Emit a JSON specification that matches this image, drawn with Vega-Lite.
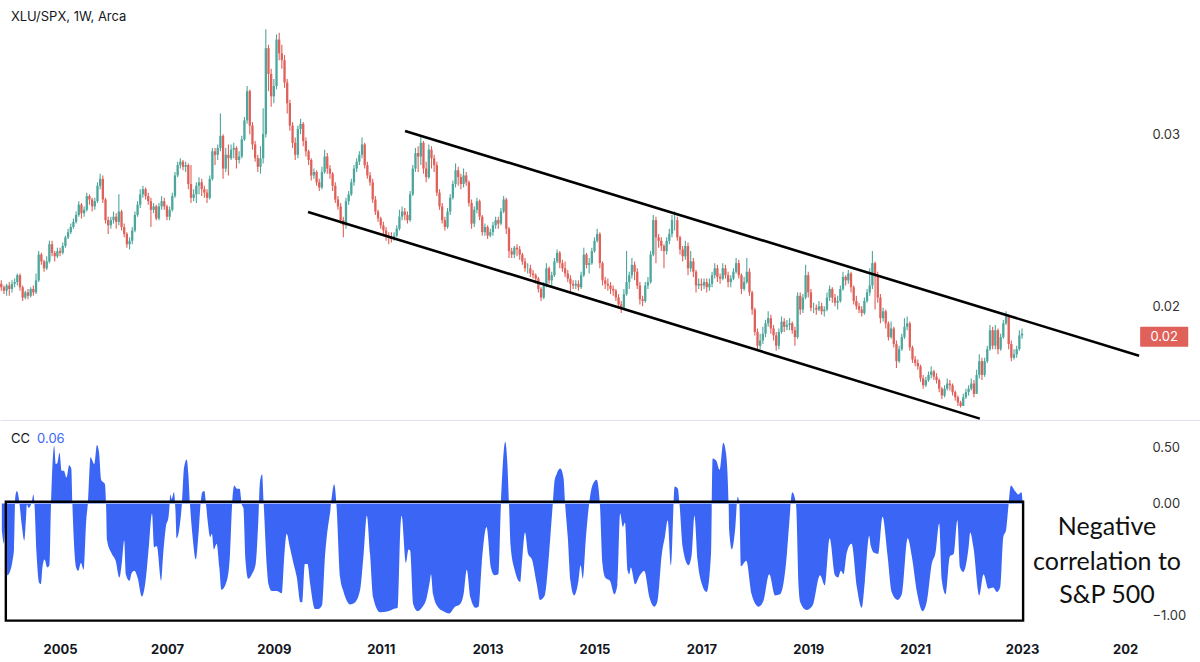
{"$schema":"https://vega.github.io/schema/vega-lite/v6.json","background":"white","padding":0,"spacing":0,"config":{"view":{"stroke":null},"font":"Inter","concat":{"spacing":0}},
"datasets":{"candles":[
{"t":2003.9,"o":0.0213,"c":0.0211,"h":0.0215,"l":0.0209},{"t":2003.95,"o":0.0211,"c":0.0209,"h":0.0212,"l":0.0207},{"t":2004.0,"o":0.0209,"c":0.0212,"h":0.0213,"l":0.0206},{"t":2004.05,"o":0.0212,"c":0.021,"h":0.0214,"l":0.0206},{"t":2004.1,"o":0.021,"c":0.0213,"h":0.0215,"l":0.0208},{"t":2004.15,"o":0.0213,"c":0.0214,"h":0.0216,"l":0.0211},{"t":2004.2,"o":0.0214,"c":0.0218,"h":0.0219,"l":0.0212},{"t":2004.25,"o":0.0218,"c":0.0211,"h":0.0219,"l":0.0209},{"t":2004.3,"o":0.0211,"c":0.0205,"h":0.0212,"l":0.0203},{"t":2004.35,"o":0.0205,"c":0.0208,"h":0.0209,"l":0.0204},{"t":2004.4,"o":0.0208,"c":0.0206,"h":0.021,"l":0.0204},{"t":2004.45,"o":0.0206,"c":0.021,"h":0.0211,"l":0.0205},{"t":2004.5,"o":0.021,"c":0.0208,"h":0.0212,"l":0.0206},{"t":2004.55,"o":0.0208,"c":0.0215,"h":0.0219,"l":0.0207},{"t":2004.6,"o":0.0215,"c":0.023,"h":0.0232,"l":0.0214},{"t":2004.65,"o":0.023,"c":0.0226,"h":0.0231,"l":0.0224},{"t":2004.7,"o":0.0226,"c":0.0222,"h":0.0227,"l":0.022},{"t":2004.75,"o":0.0222,"c":0.0226,"h":0.0229,"l":0.0221},{"t":2004.8,"o":0.0226,"c":0.0236,"h":0.0238,"l":0.0225},{"t":2004.85,"o":0.0236,"c":0.0231,"h":0.0238,"l":0.0229},{"t":2004.9,"o":0.0231,"c":0.0229,"h":0.0232,"l":0.0226},{"t":2004.95,"o":0.0229,"c":0.0232,"h":0.0234,"l":0.0228},{"t":2005.0,"o":0.0232,"c":0.0231,"h":0.0234,"l":0.0229},{"t":2005.05,"o":0.0231,"c":0.0235,"h":0.0237,"l":0.023},{"t":2005.1,"o":0.0235,"c":0.024,"h":0.0241,"l":0.0234},{"t":2005.15,"o":0.024,"c":0.0243,"h":0.0245,"l":0.0239},{"t":2005.2,"o":0.0243,"c":0.0246,"h":0.0248,"l":0.0242},{"t":2005.25,"o":0.0246,"c":0.0249,"h":0.0251,"l":0.0245},{"t":2005.3,"o":0.0249,"c":0.0253,"h":0.0255,"l":0.0248},{"t":2005.35,"o":0.0253,"c":0.0259,"h":0.0261,"l":0.0252},{"t":2005.4,"o":0.0259,"c":0.0254,"h":0.026,"l":0.0251},{"t":2005.45,"o":0.0254,"c":0.0256,"h":0.0258,"l":0.0252},{"t":2005.5,"o":0.0256,"c":0.0264,"h":0.0266,"l":0.0255},{"t":2005.55,"o":0.0264,"c":0.0262,"h":0.0265,"l":0.0259},{"t":2005.6,"o":0.0262,"c":0.0258,"h":0.0263,"l":0.0255},{"t":2005.65,"o":0.0258,"c":0.0261,"h":0.0263,"l":0.0256},{"t":2005.7,"o":0.0261,"c":0.027,"h":0.0272,"l":0.026},{"t":2005.75,"o":0.027,"c":0.0274,"h":0.0277,"l":0.0268},{"t":2005.8,"o":0.0274,"c":0.0262,"h":0.0276,"l":0.026},{"t":2005.85,"o":0.0262,"c":0.025,"h":0.0263,"l":0.0248},{"t":2005.9,"o":0.025,"c":0.0247,"h":0.0252,"l":0.0242},{"t":2005.95,"o":0.0247,"c":0.025,"h":0.0252,"l":0.0245},{"t":2006.0,"o":0.025,"c":0.0252,"h":0.0255,"l":0.0248},{"t":2006.05,"o":0.0252,"c":0.0249,"h":0.0254,"l":0.0245},{"t":2006.1,"o":0.0249,"c":0.0255,"h":0.0265,"l":0.0247},{"t":2006.15,"o":0.0255,"c":0.0246,"h":0.0256,"l":0.0244},{"t":2006.2,"o":0.0246,"c":0.0242,"h":0.0248,"l":0.024},{"t":2006.25,"o":0.0242,"c":0.0236,"h":0.0243,"l":0.0234},{"t":2006.3,"o":0.0236,"c":0.0238,"h":0.024,"l":0.0233},{"t":2006.35,"o":0.0238,"c":0.0244,"h":0.0246,"l":0.0236},{"t":2006.4,"o":0.0244,"c":0.0253,"h":0.0255,"l":0.0243},{"t":2006.45,"o":0.0253,"c":0.0259,"h":0.0261,"l":0.0252},{"t":2006.5,"o":0.0259,"c":0.0265,"h":0.0268,"l":0.0257},{"t":2006.55,"o":0.0265,"c":0.0268,"h":0.027,"l":0.0263},{"t":2006.6,"o":0.0268,"c":0.0264,"h":0.0269,"l":0.0262},{"t":2006.65,"o":0.0264,"c":0.0261,"h":0.0266,"l":0.0259},{"t":2006.7,"o":0.0261,"c":0.0256,"h":0.0263,"l":0.0246},{"t":2006.75,"o":0.0256,"c":0.0258,"h":0.026,"l":0.0254},{"t":2006.8,"o":0.0258,"c":0.0251,"h":0.0259,"l":0.025},{"t":2006.85,"o":0.0251,"c":0.0258,"h":0.026,"l":0.025},{"t":2006.9,"o":0.0258,"c":0.0261,"h":0.0264,"l":0.0256},{"t":2006.95,"o":0.0261,"c":0.0258,"h":0.0263,"l":0.0256},{"t":2007.0,"o":0.0258,"c":0.0252,"h":0.0259,"l":0.025},{"t":2007.05,"o":0.0252,"c":0.0256,"h":0.0258,"l":0.025},{"t":2007.1,"o":0.0256,"c":0.0264,"h":0.0266,"l":0.0255},{"t":2007.15,"o":0.0264,"c":0.0276,"h":0.0278,"l":0.0263},{"t":2007.2,"o":0.0276,"c":0.0282,"h":0.0284,"l":0.0275},{"t":2007.25,"o":0.0282,"c":0.0284,"h":0.0286,"l":0.028},{"t":2007.3,"o":0.0284,"c":0.0281,"h":0.0285,"l":0.0279},{"t":2007.35,"o":0.0281,"c":0.0282,"h":0.0284,"l":0.0278},{"t":2007.4,"o":0.0282,"c":0.0271,"h":0.0283,"l":0.0268},{"t":2007.45,"o":0.0271,"c":0.0263,"h":0.0282,"l":0.026},{"t":2007.5,"o":0.0263,"c":0.0265,"h":0.0268,"l":0.0261},{"t":2007.55,"o":0.0265,"c":0.027,"h":0.0272,"l":0.026},{"t":2007.6,"o":0.027,"c":0.0272,"h":0.0275,"l":0.0265},{"t":2007.65,"o":0.0272,"c":0.0268,"h":0.0274,"l":0.0264},{"t":2007.7,"o":0.0268,"c":0.0266,"h":0.027,"l":0.0263},{"t":2007.75,"o":0.0266,"c":0.0263,"h":0.0268,"l":0.026},{"t":2007.8,"o":0.0263,"c":0.0274,"h":0.0276,"l":0.0262},{"t":2007.85,"o":0.0274,"c":0.029,"h":0.0292,"l":0.0273},{"t":2007.9,"o":0.029,"c":0.0288,"h":0.0292,"l":0.0282},{"t":2007.95,"o":0.0288,"c":0.0292,"h":0.0294,"l":0.0285},{"t":2008.0,"o":0.0292,"c":0.0299,"h":0.0312,"l":0.029},{"t":2008.05,"o":0.0299,"c":0.028,"h":0.03,"l":0.0274},{"t":2008.1,"o":0.028,"c":0.0288,"h":0.0292,"l":0.0278},{"t":2008.15,"o":0.0288,"c":0.0286,"h":0.0294,"l":0.0276},{"t":2008.2,"o":0.0286,"c":0.0291,"h":0.0294,"l":0.0285},{"t":2008.25,"o":0.0291,"c":0.0292,"h":0.0295,"l":0.0286},{"t":2008.3,"o":0.0292,"c":0.0285,"h":0.0293,"l":0.028},{"t":2008.35,"o":0.0285,"c":0.0287,"h":0.029,"l":0.0283},{"t":2008.4,"o":0.0287,"c":0.0297,"h":0.0299,"l":0.0286},{"t":2008.45,"o":0.0297,"c":0.0308,"h":0.031,"l":0.0296},{"t":2008.5,"o":0.0308,"c":0.0325,"h":0.0328,"l":0.0306},{"t":2008.55,"o":0.0325,"c":0.0305,"h":0.0326,"l":0.03},{"t":2008.6,"o":0.0305,"c":0.0294,"h":0.0307,"l":0.0291},{"t":2008.65,"o":0.0294,"c":0.0286,"h":0.0296,"l":0.0284},{"t":2008.7,"o":0.0286,"c":0.0281,"h":0.0288,"l":0.0278},{"t":2008.75,"o":0.0281,"c":0.0286,"h":0.0293,"l":0.0277},{"t":2008.8,"o":0.0286,"c":0.03,"h":0.0315,"l":0.0283},{"t":2008.85,"o":0.03,"c":0.035,"h":0.0361,"l":0.0298},{"t":2008.9,"o":0.035,"c":0.0335,"h":0.0352,"l":0.0325},{"t":2008.95,"o":0.0335,"c":0.0322,"h":0.0338,"l":0.0316},{"t":2009.0,"o":0.0322,"c":0.0328,"h":0.0332,"l":0.0318},{"t":2009.05,"o":0.0328,"c":0.0355,"h":0.0358,"l":0.0326},{"t":2009.1,"o":0.0355,"c":0.0347,"h":0.0359,"l":0.0343},{"t":2009.15,"o":0.0347,"c":0.0343,"h":0.0352,"l":0.0338},{"t":2009.2,"o":0.0343,"c":0.033,"h":0.0346,"l":0.0327},{"t":2009.25,"o":0.033,"c":0.0318,"h":0.0332,"l":0.0312},{"t":2009.3,"o":0.0318,"c":0.0305,"h":0.032,"l":0.0302},{"t":2009.35,"o":0.0305,"c":0.0295,"h":0.0307,"l":0.0292},{"t":2009.4,"o":0.0295,"c":0.0288,"h":0.0298,"l":0.0285},{"t":2009.45,"o":0.0288,"c":0.0303,"h":0.0305,"l":0.0286},{"t":2009.5,"o":0.0303,"c":0.0306,"h":0.0309,"l":0.03},{"t":2009.55,"o":0.0306,"c":0.0296,"h":0.0307,"l":0.0293},{"t":2009.6,"o":0.0296,"c":0.029,"h":0.0298,"l":0.0287},{"t":2009.65,"o":0.029,"c":0.0285,"h":0.0291,"l":0.0282},{"t":2009.7,"o":0.0285,"c":0.0276,"h":0.0286,"l":0.0273},{"t":2009.75,"o":0.0276,"c":0.0278,"h":0.028,"l":0.0274},{"t":2009.8,"o":0.0278,"c":0.0272,"h":0.0279,"l":0.027},{"t":2009.85,"o":0.0272,"c":0.0269,"h":0.0274,"l":0.0267},{"t":2009.9,"o":0.0269,"c":0.0278,"h":0.0281,"l":0.0268},{"t":2009.95,"o":0.0278,"c":0.0287,"h":0.0291,"l":0.0277},{"t":2010.0,"o":0.0287,"c":0.028,"h":0.0289,"l":0.0277},{"t":2010.05,"o":0.028,"c":0.0277,"h":0.0282,"l":0.0274},{"t":2010.1,"o":0.0277,"c":0.027,"h":0.0278,"l":0.0267},{"t":2010.15,"o":0.027,"c":0.0262,"h":0.0272,"l":0.026},{"t":2010.2,"o":0.0262,"c":0.0258,"h":0.0264,"l":0.0256},{"t":2010.25,"o":0.0258,"c":0.025,"h":0.026,"l":0.0248},{"t":2010.3,"o":0.025,"c":0.0247,"h":0.0252,"l":0.024},{"t":2010.35,"o":0.0247,"c":0.0261,"h":0.0263,"l":0.0245},{"t":2010.4,"o":0.0261,"c":0.0265,"h":0.0267,"l":0.0259},{"t":2010.45,"o":0.0265,"c":0.0272,"h":0.0274,"l":0.0264},{"t":2010.5,"o":0.0272,"c":0.028,"h":0.0282,"l":0.027},{"t":2010.55,"o":0.028,"c":0.0284,"h":0.0286,"l":0.0278},{"t":2010.6,"o":0.0284,"c":0.0288,"h":0.029,"l":0.0282},{"t":2010.65,"o":0.0288,"c":0.0294,"h":0.0298,"l":0.0286},{"t":2010.7,"o":0.0294,"c":0.0282,"h":0.0295,"l":0.028},{"t":2010.75,"o":0.0282,"c":0.0276,"h":0.0284,"l":0.0274},{"t":2010.8,"o":0.0276,"c":0.0272,"h":0.0278,"l":0.027},{"t":2010.85,"o":0.0272,"c":0.0262,"h":0.0274,"l":0.026},{"t":2010.9,"o":0.0262,"c":0.0255,"h":0.0264,"l":0.0253},{"t":2010.95,"o":0.0255,"c":0.0251,"h":0.0256,"l":0.0249},{"t":2011.0,"o":0.0251,"c":0.0247,"h":0.0252,"l":0.0245},{"t":2011.05,"o":0.0247,"c":0.0244,"h":0.0249,"l":0.0242},{"t":2011.1,"o":0.0244,"c":0.0241,"h":0.0246,"l":0.0238},{"t":2011.15,"o":0.0241,"c":0.024,"h":0.0243,"l":0.0236},{"t":2011.2,"o":0.024,"c":0.0239,"h":0.0243,"l":0.0237},{"t":2011.25,"o":0.0239,"c":0.0241,"h":0.0243,"l":0.0238},{"t":2011.3,"o":0.0241,"c":0.0245,"h":0.0247,"l":0.024},{"t":2011.35,"o":0.0245,"c":0.0252,"h":0.0256,"l":0.0244},{"t":2011.4,"o":0.0252,"c":0.0255,"h":0.0258,"l":0.025},{"t":2011.45,"o":0.0255,"c":0.0253,"h":0.0257,"l":0.025},{"t":2011.5,"o":0.0253,"c":0.025,"h":0.0255,"l":0.0248},{"t":2011.55,"o":0.025,"c":0.0265,"h":0.0267,"l":0.0249},{"t":2011.6,"o":0.0265,"c":0.028,"h":0.0282,"l":0.0264},{"t":2011.65,"o":0.028,"c":0.0289,"h":0.0292,"l":0.0278},{"t":2011.7,"o":0.0289,"c":0.0287,"h":0.0293,"l":0.0278},{"t":2011.75,"o":0.0287,"c":0.0295,"h":0.0299,"l":0.0282},{"t":2011.8,"o":0.0295,"c":0.028,"h":0.0296,"l":0.0277},{"t":2011.85,"o":0.028,"c":0.0275,"h":0.0284,"l":0.0272},{"t":2011.9,"o":0.0275,"c":0.0291,"h":0.0294,"l":0.0274},{"t":2011.95,"o":0.0291,"c":0.0286,"h":0.0293,"l":0.028},{"t":2012.0,"o":0.0286,"c":0.0282,"h":0.0288,"l":0.0278},{"t":2012.05,"o":0.0282,"c":0.0266,"h":0.0284,"l":0.0264},{"t":2012.1,"o":0.0266,"c":0.0258,"h":0.0268,"l":0.0256},{"t":2012.15,"o":0.0258,"c":0.025,"h":0.026,"l":0.0248},{"t":2012.2,"o":0.025,"c":0.0246,"h":0.0252,"l":0.0244},{"t":2012.25,"o":0.0246,"c":0.0255,"h":0.0257,"l":0.0245},{"t":2012.3,"o":0.0255,"c":0.0263,"h":0.0265,"l":0.0253},{"t":2012.35,"o":0.0263,"c":0.0271,"h":0.0273,"l":0.0262},{"t":2012.4,"o":0.0271,"c":0.0279,"h":0.0283,"l":0.0269},{"t":2012.45,"o":0.0279,"c":0.0275,"h":0.0281,"l":0.027},{"t":2012.5,"o":0.0275,"c":0.0271,"h":0.0277,"l":0.0268},{"t":2012.55,"o":0.0271,"c":0.0276,"h":0.028,"l":0.0269},{"t":2012.6,"o":0.0276,"c":0.0272,"h":0.0278,"l":0.027},{"t":2012.65,"o":0.0272,"c":0.026,"h":0.0273,"l":0.0258},{"t":2012.7,"o":0.026,"c":0.0248,"h":0.0262,"l":0.0245},{"t":2012.75,"o":0.0248,"c":0.0256,"h":0.0258,"l":0.0246},{"t":2012.8,"o":0.0256,"c":0.0261,"h":0.0263,"l":0.0254},{"t":2012.85,"o":0.0261,"c":0.0252,"h":0.0262,"l":0.025},{"t":2012.9,"o":0.0252,"c":0.0243,"h":0.0253,"l":0.0241},{"t":2012.95,"o":0.0243,"c":0.0246,"h":0.0248,"l":0.0241},{"t":2013.0,"o":0.0246,"c":0.0241,"h":0.0247,"l":0.0239},{"t":2013.05,"o":0.0241,"c":0.0243,"h":0.0245,"l":0.024},{"t":2013.1,"o":0.0243,"c":0.0247,"h":0.0249,"l":0.0241},{"t":2013.15,"o":0.0247,"c":0.025,"h":0.0252,"l":0.0245},{"t":2013.2,"o":0.025,"c":0.0248,"h":0.0252,"l":0.0245},{"t":2013.25,"o":0.0248,"c":0.0255,"h":0.0257,"l":0.0247},{"t":2013.3,"o":0.0255,"c":0.0262,"h":0.0264,"l":0.0254},{"t":2013.35,"o":0.0262,"c":0.0245,"h":0.0263,"l":0.0242},{"t":2013.4,"o":0.0245,"c":0.0232,"h":0.0246,"l":0.0228},{"t":2013.45,"o":0.0232,"c":0.023,"h":0.0234,"l":0.0228},{"t":2013.5,"o":0.023,"c":0.0234,"h":0.0235,"l":0.0228},{"t":2013.55,"o":0.0234,"c":0.0233,"h":0.0236,"l":0.0229},{"t":2013.6,"o":0.0233,"c":0.023,"h":0.0235,"l":0.0227},{"t":2013.65,"o":0.023,"c":0.0226,"h":0.0231,"l":0.0224},{"t":2013.7,"o":0.0226,"c":0.0222,"h":0.0228,"l":0.022},{"t":2013.75,"o":0.0222,"c":0.0222,"h":0.0225,"l":0.0219},{"t":2013.8,"o":0.0222,"c":0.0219,"h":0.0224,"l":0.0217},{"t":2013.85,"o":0.0219,"c":0.0218,"h":0.0221,"l":0.0216},{"t":2013.9,"o":0.0218,"c":0.0216,"h":0.0219,"l":0.0213},{"t":2013.95,"o":0.0216,"c":0.021,"h":0.0217,"l":0.0208},{"t":2014.0,"o":0.021,"c":0.0205,"h":0.0211,"l":0.0203},{"t":2014.05,"o":0.0205,"c":0.0212,"h":0.0214,"l":0.0204},{"t":2014.1,"o":0.0212,"c":0.0222,"h":0.0225,"l":0.0211},{"t":2014.15,"o":0.0222,"c":0.0215,"h":0.0223,"l":0.0213},{"t":2014.2,"o":0.0215,"c":0.0218,"h":0.022,"l":0.0212},{"t":2014.25,"o":0.0218,"c":0.0226,"h":0.0228,"l":0.0217},{"t":2014.3,"o":0.0226,"c":0.0231,"h":0.0233,"l":0.0225},{"t":2014.35,"o":0.0231,"c":0.0225,"h":0.0232,"l":0.0222},{"t":2014.4,"o":0.0225,"c":0.0222,"h":0.0227,"l":0.022},{"t":2014.45,"o":0.0222,"c":0.0219,"h":0.0226,"l":0.0217},{"t":2014.5,"o":0.0219,"c":0.0216,"h":0.0221,"l":0.0214},{"t":2014.55,"o":0.0216,"c":0.0213,"h":0.0218,"l":0.0208},{"t":2014.6,"o":0.0213,"c":0.0212,"h":0.0215,"l":0.021},{"t":2014.65,"o":0.0212,"c":0.0213,"h":0.0215,"l":0.021},{"t":2014.7,"o":0.0213,"c":0.0211,"h":0.0215,"l":0.0209},{"t":2014.75,"o":0.0211,"c":0.0218,"h":0.022,"l":0.021},{"t":2014.8,"o":0.0218,"c":0.023,"h":0.0234,"l":0.0217},{"t":2014.85,"o":0.023,"c":0.0224,"h":0.0231,"l":0.0222},{"t":2014.9,"o":0.0224,"c":0.0225,"h":0.0228,"l":0.0219},{"t":2014.95,"o":0.0225,"c":0.0232,"h":0.0234,"l":0.0224},{"t":2015.0,"o":0.0232,"c":0.0238,"h":0.024,"l":0.0231},{"t":2015.05,"o":0.0238,"c":0.0242,"h":0.0245,"l":0.0237},{"t":2015.1,"o":0.0242,"c":0.0225,"h":0.0243,"l":0.0222},{"t":2015.15,"o":0.0225,"c":0.0215,"h":0.0226,"l":0.0212},{"t":2015.2,"o":0.0215,"c":0.0213,"h":0.0217,"l":0.021},{"t":2015.25,"o":0.0213,"c":0.0212,"h":0.0216,"l":0.0209},{"t":2015.3,"o":0.0212,"c":0.021,"h":0.0214,"l":0.0207},{"t":2015.35,"o":0.021,"c":0.0209,"h":0.0212,"l":0.0206},{"t":2015.4,"o":0.0209,"c":0.0205,"h":0.021,"l":0.0203},{"t":2015.45,"o":0.0205,"c":0.0201,"h":0.0207,"l":0.0199},{"t":2015.5,"o":0.0201,"c":0.0199,"h":0.0203,"l":0.0196},{"t":2015.55,"o":0.0199,"c":0.0207,"h":0.021,"l":0.0198},{"t":2015.6,"o":0.0207,"c":0.0214,"h":0.0232,"l":0.0206},{"t":2015.65,"o":0.0214,"c":0.0218,"h":0.022,"l":0.021},{"t":2015.7,"o":0.0218,"c":0.0224,"h":0.0228,"l":0.0216},{"t":2015.75,"o":0.0224,"c":0.022,"h":0.0226,"l":0.0215},{"t":2015.8,"o":0.022,"c":0.0212,"h":0.0222,"l":0.021},{"t":2015.85,"o":0.0212,"c":0.0204,"h":0.0214,"l":0.0201},{"t":2015.9,"o":0.0204,"c":0.0203,"h":0.0206,"l":0.02},{"t":2015.95,"o":0.0203,"c":0.0212,"h":0.0214,"l":0.0202},{"t":2016.0,"o":0.0212,"c":0.0214,"h":0.0217,"l":0.021},{"t":2016.05,"o":0.0214,"c":0.023,"h":0.0232,"l":0.0213},{"t":2016.1,"o":0.023,"c":0.025,"h":0.0253,"l":0.0229},{"t":2016.15,"o":0.025,"c":0.024,"h":0.0252,"l":0.0225},{"t":2016.2,"o":0.024,"c":0.0238,"h":0.0242,"l":0.0234},{"t":2016.25,"o":0.0238,"c":0.0235,"h":0.024,"l":0.0232},{"t":2016.3,"o":0.0235,"c":0.0232,"h":0.0236,"l":0.0222},{"t":2016.35,"o":0.0232,"c":0.0238,"h":0.024,"l":0.023},{"t":2016.4,"o":0.0238,"c":0.0242,"h":0.0245,"l":0.0236},{"t":2016.45,"o":0.0242,"c":0.025,"h":0.0253,"l":0.024},{"t":2016.5,"o":0.025,"c":0.025,"h":0.0255,"l":0.0244},{"t":2016.55,"o":0.025,"c":0.024,"h":0.0252,"l":0.0238},{"t":2016.6,"o":0.024,"c":0.0233,"h":0.0241,"l":0.023},{"t":2016.65,"o":0.0233,"c":0.0229,"h":0.0235,"l":0.0226},{"t":2016.7,"o":0.0229,"c":0.0235,"h":0.0238,"l":0.0227},{"t":2016.75,"o":0.0235,"c":0.0222,"h":0.0237,"l":0.0218},{"t":2016.8,"o":0.0222,"c":0.0226,"h":0.0232,"l":0.022},{"t":2016.85,"o":0.0226,"c":0.022,"h":0.0228,"l":0.0217},{"t":2016.9,"o":0.022,"c":0.0212,"h":0.0221,"l":0.0208},{"t":2016.95,"o":0.0212,"c":0.0213,"h":0.0216,"l":0.021},{"t":2017.0,"o":0.0213,"c":0.0212,"h":0.0216,"l":0.0209},{"t":2017.05,"o":0.0212,"c":0.0214,"h":0.0216,"l":0.021},{"t":2017.1,"o":0.0214,"c":0.0211,"h":0.0216,"l":0.0208},{"t":2017.15,"o":0.0211,"c":0.0213,"h":0.0216,"l":0.0209},{"t":2017.2,"o":0.0213,"c":0.0218,"h":0.022,"l":0.0211},{"t":2017.25,"o":0.0218,"c":0.0222,"h":0.0225,"l":0.0216},{"t":2017.3,"o":0.0222,"c":0.0217,"h":0.0224,"l":0.0214},{"t":2017.35,"o":0.0217,"c":0.0216,"h":0.0219,"l":0.0213},{"t":2017.4,"o":0.0216,"c":0.0222,"h":0.0225,"l":0.0215},{"t":2017.45,"o":0.0222,"c":0.0218,"h":0.0224,"l":0.0216},{"t":2017.5,"o":0.0218,"c":0.0214,"h":0.022,"l":0.0211},{"t":2017.55,"o":0.0214,"c":0.0216,"h":0.0218,"l":0.0211},{"t":2017.6,"o":0.0216,"c":0.022,"h":0.0222,"l":0.0215},{"t":2017.65,"o":0.022,"c":0.0225,"h":0.0228,"l":0.0219},{"t":2017.7,"o":0.0225,"c":0.0218,"h":0.0227,"l":0.0216},{"t":2017.75,"o":0.0218,"c":0.021,"h":0.0219,"l":0.0207},{"t":2017.8,"o":0.021,"c":0.0214,"h":0.0217,"l":0.0209},{"t":2017.85,"o":0.0214,"c":0.022,"h":0.0228,"l":0.0213},{"t":2017.9,"o":0.022,"c":0.0208,"h":0.0222,"l":0.0206},{"t":2017.95,"o":0.0208,"c":0.0198,"h":0.0209,"l":0.0195},{"t":2018.0,"o":0.0198,"c":0.0185,"h":0.0199,"l":0.0183},{"t":2018.05,"o":0.0185,"c":0.0177,"h":0.0187,"l":0.0175},{"t":2018.1,"o":0.0177,"c":0.018,"h":0.0184,"l":0.0175},{"t":2018.15,"o":0.018,"c":0.0184,"h":0.0188,"l":0.0178},{"t":2018.2,"o":0.0184,"c":0.019,"h":0.0192,"l":0.0182},{"t":2018.25,"o":0.019,"c":0.0193,"h":0.0197,"l":0.0188},{"t":2018.3,"o":0.0193,"c":0.0187,"h":0.0195,"l":0.0184},{"t":2018.35,"o":0.0187,"c":0.0183,"h":0.0189,"l":0.018},{"t":2018.4,"o":0.0183,"c":0.0177,"h":0.0185,"l":0.0174},{"t":2018.45,"o":0.0177,"c":0.0185,"h":0.0187,"l":0.0175},{"t":2018.5,"o":0.0185,"c":0.0191,"h":0.0194,"l":0.0184},{"t":2018.55,"o":0.0191,"c":0.0188,"h":0.0193,"l":0.0185},{"t":2018.6,"o":0.0188,"c":0.0189,"h":0.0192,"l":0.0186},{"t":2018.65,"o":0.0189,"c":0.019,"h":0.0193,"l":0.0186},{"t":2018.7,"o":0.019,"c":0.0186,"h":0.0191,"l":0.0184},{"t":2018.75,"o":0.0186,"c":0.0182,"h":0.0188,"l":0.0177},{"t":2018.8,"o":0.0182,"c":0.0206,"h":0.0208,"l":0.0181},{"t":2018.85,"o":0.0206,"c":0.0198,"h":0.0208,"l":0.0195},{"t":2018.9,"o":0.0198,"c":0.0205,"h":0.0207,"l":0.0196},{"t":2018.95,"o":0.0205,"c":0.0218,"h":0.0224,"l":0.0204},{"t":2019.0,"o":0.0218,"c":0.0208,"h":0.022,"l":0.0205},{"t":2019.05,"o":0.0208,"c":0.0199,"h":0.021,"l":0.0197},{"t":2019.1,"o":0.0199,"c":0.0199,"h":0.0202,"l":0.0196},{"t":2019.15,"o":0.0199,"c":0.0198,"h":0.0201,"l":0.0195},{"t":2019.2,"o":0.0198,"c":0.02,"h":0.0203,"l":0.0197},{"t":2019.25,"o":0.02,"c":0.0197,"h":0.0202,"l":0.0195},{"t":2019.3,"o":0.0197,"c":0.0198,"h":0.02,"l":0.0194},{"t":2019.35,"o":0.0198,"c":0.0205,"h":0.0208,"l":0.0197},{"t":2019.4,"o":0.0205,"c":0.021,"h":0.0212,"l":0.0203},{"t":2019.45,"o":0.021,"c":0.0205,"h":0.0211,"l":0.0202},{"t":2019.5,"o":0.0205,"c":0.0202,"h":0.0207,"l":0.02},{"t":2019.55,"o":0.0202,"c":0.0203,"h":0.0206,"l":0.0198},{"t":2019.6,"o":0.0203,"c":0.021,"h":0.0212,"l":0.0202},{"t":2019.65,"o":0.021,"c":0.0217,"h":0.022,"l":0.0209},{"t":2019.7,"o":0.0217,"c":0.0215,"h":0.0218,"l":0.0212},{"t":2019.75,"o":0.0215,"c":0.0219,"h":0.0221,"l":0.0213},{"t":2019.8,"o":0.0219,"c":0.0211,"h":0.022,"l":0.0208},{"t":2019.85,"o":0.0211,"c":0.0203,"h":0.0212,"l":0.0201},{"t":2019.9,"o":0.0203,"c":0.02,"h":0.0206,"l":0.0198},{"t":2019.95,"o":0.02,"c":0.0198,"h":0.0202,"l":0.0196},{"t":2020.0,"o":0.0198,"c":0.0196,"h":0.02,"l":0.0194},{"t":2020.05,"o":0.0196,"c":0.0203,"h":0.0205,"l":0.0195},{"t":2020.1,"o":0.0203,"c":0.0208,"h":0.021,"l":0.0202},{"t":2020.15,"o":0.0208,"c":0.0212,"h":0.0222,"l":0.0206},{"t":2020.2,"o":0.0212,"c":0.0225,"h":0.0232,"l":0.021},{"t":2020.25,"o":0.0225,"c":0.0218,"h":0.0226,"l":0.0198},{"t":2020.3,"o":0.0218,"c":0.0205,"h":0.022,"l":0.0202},{"t":2020.35,"o":0.0205,"c":0.0193,"h":0.0207,"l":0.019},{"t":2020.4,"o":0.0193,"c":0.0197,"h":0.0199,"l":0.0191},{"t":2020.45,"o":0.0197,"c":0.019,"h":0.0198,"l":0.0187},{"t":2020.5,"o":0.019,"c":0.0182,"h":0.0191,"l":0.018},{"t":2020.55,"o":0.0182,"c":0.0187,"h":0.0191,"l":0.0181},{"t":2020.6,"o":0.0187,"c":0.0178,"h":0.0188,"l":0.0176},{"t":2020.65,"o":0.0178,"c":0.0168,"h":0.018,"l":0.0164},{"t":2020.7,"o":0.0168,"c":0.0175,"h":0.0177,"l":0.0167},{"t":2020.75,"o":0.0175,"c":0.0182,"h":0.0184,"l":0.0174},{"t":2020.8,"o":0.0182,"c":0.0188,"h":0.0193,"l":0.0181},{"t":2020.85,"o":0.0188,"c":0.019,"h":0.0194,"l":0.0186},{"t":2020.9,"o":0.019,"c":0.0176,"h":0.0191,"l":0.0174},{"t":2020.95,"o":0.0176,"c":0.0169,"h":0.0177,"l":0.0167},{"t":2021.0,"o":0.0169,"c":0.0167,"h":0.0171,"l":0.0165},{"t":2021.05,"o":0.0167,"c":0.0165,"h":0.0169,"l":0.0163},{"t":2021.1,"o":0.0165,"c":0.0158,"h":0.0166,"l":0.0156},{"t":2021.15,"o":0.0158,"c":0.0154,"h":0.016,"l":0.0152},{"t":2021.2,"o":0.0154,"c":0.0157,"h":0.0159,"l":0.0153},{"t":2021.25,"o":0.0157,"c":0.016,"h":0.0162,"l":0.0156},{"t":2021.3,"o":0.016,"c":0.0162,"h":0.0165,"l":0.0158},{"t":2021.35,"o":0.0162,"c":0.0159,"h":0.0163,"l":0.0157},{"t":2021.4,"o":0.0159,"c":0.0157,"h":0.0161,"l":0.0155},{"t":2021.45,"o":0.0157,"c":0.0152,"h":0.0158,"l":0.015},{"t":2021.5,"o":0.0152,"c":0.0148,"h":0.0153,"l":0.0146},{"t":2021.55,"o":0.0148,"c":0.0152,"h":0.0154,"l":0.0147},{"t":2021.6,"o":0.0152,"c":0.0155,"h":0.0158,"l":0.0151},{"t":2021.65,"o":0.0155,"c":0.0154,"h":0.0157,"l":0.0151},{"t":2021.7,"o":0.0154,"c":0.015,"h":0.0155,"l":0.0148},{"t":2021.75,"o":0.015,"c":0.0147,"h":0.0151,"l":0.0145},{"t":2021.8,"o":0.0147,"c":0.0144,"h":0.0148,"l":0.0142},{"t":2021.85,"o":0.0144,"c":0.0142,"h":0.0145,"l":0.0141},{"t":2021.9,"o":0.0142,"c":0.0147,"h":0.0149,"l":0.0142},{"t":2021.95,"o":0.0147,"c":0.015,"h":0.0152,"l":0.0146},{"t":2022.0,"o":0.015,"c":0.0152,"h":0.0154,"l":0.0148},{"t":2022.05,"o":0.0152,"c":0.0155,"h":0.0158,"l":0.0151},{"t":2022.1,"o":0.0155,"c":0.0149,"h":0.0157,"l":0.0147},{"t":2022.15,"o":0.0149,"c":0.016,"h":0.0163,"l":0.0149},{"t":2022.2,"o":0.016,"c":0.0168,"h":0.0172,"l":0.0158},{"t":2022.25,"o":0.0168,"c":0.016,"h":0.017,"l":0.0157},{"t":2022.3,"o":0.016,"c":0.0168,"h":0.017,"l":0.0159},{"t":2022.35,"o":0.0168,"c":0.0175,"h":0.0177,"l":0.0167},{"t":2022.4,"o":0.0175,"c":0.0186,"h":0.0189,"l":0.0174},{"t":2022.45,"o":0.0186,"c":0.0177,"h":0.0188,"l":0.0175},{"t":2022.5,"o":0.0177,"c":0.0186,"h":0.0189,"l":0.0175},{"t":2022.55,"o":0.0186,"c":0.0175,"h":0.0187,"l":0.0172},{"t":2022.6,"o":0.0175,"c":0.0182,"h":0.0184,"l":0.0174},{"t":2022.65,"o":0.0182,"c":0.019,"h":0.0192,"l":0.0181},{"t":2022.7,"o":0.019,"c":0.0194,"h":0.0197,"l":0.0189},{"t":2022.75,"o":0.0194,"c":0.0178,"h":0.0195,"l":0.0175},{"t":2022.8,"o":0.0178,"c":0.017,"h":0.018,"l":0.0168},{"t":2022.85,"o":0.017,"c":0.0172,"h":0.0175,"l":0.0169},{"t":2022.9,"o":0.0172,"c":0.0175,"h":0.0177,"l":0.017},{"t":2022.95,"o":0.0175,"c":0.0183,"h":0.0186,"l":0.0174},{"t":2023.0,"o":0.0183,"c":0.0184,"h":0.0187,"l":0.0181}
],"cc":[
{"t":2003.91,"cc":-0.24},{"t":2003.95,"cc":-0.36},{"t":2003.98,"cc":-0.15},{"t":2004.0,"cc":-0.15},{"t":2004.01,"cc":-0.64},{"t":2004.06,"cc":-0.61},{"t":2004.11,"cc":-0.51},{"t":2004.14,"cc":-0.39},{"t":2004.16,"cc":0.05},{"t":2004.19,"cc":0.11},{"t":2004.22,"cc":0.07},{"t":2004.24,"cc":0},{"t":2004.28,"cc":-0.18},{"t":2004.33,"cc":-0.33},{"t":2004.36,"cc":-0.15},{"t":2004.38,"cc":-0.01},{"t":2004.41,"cc":-0.04},{"t":2004.47,"cc":0.01},{"t":2004.5,"cc":0.08},{"t":2004.52,"cc":0},{"t":2004.56,"cc":-0.45},{"t":2004.61,"cc":-0.71},{"t":2004.64,"cc":-0.72},{"t":2004.67,"cc":-0.57},{"t":2004.71,"cc":-0.5},{"t":2004.76,"cc":-0.57},{"t":2004.8,"cc":-0.55},{"t":2004.83,"cc":-0.01},{"t":2004.89,"cc":0.51},{"t":2004.92,"cc":0.35},{"t":2004.95,"cc":0.36},{"t":2004.99,"cc":0.45},{"t":2005.03,"cc":0.29},{"t":2005.07,"cc":0.29},{"t":2005.12,"cc":0.23},{"t":2005.17,"cc":0.34},{"t":2005.21,"cc":0.31},{"t":2005.23,"cc":0},{"t":2005.3,"cc":-0.57},{"t":2005.34,"cc":-0.6},{"t":2005.39,"cc":-0.53},{"t":2005.44,"cc":-0.59},{"t":2005.49,"cc":-0.15},{"t":2005.52,"cc":0},{"t":2005.57,"cc":0.41},{"t":2005.64,"cc":0.35},{"t":2005.69,"cc":0.52},{"t":2005.73,"cc":0.45},{"t":2005.77,"cc":0.21},{"t":2005.84,"cc":0.17},{"t":2005.86,"cc":0},{"t":2005.88,"cc":-0.33},{"t":2005.97,"cc":-0.45},{"t":2006.04,"cc":-0.51},{"t":2006.11,"cc":-0.66},{"t":2006.16,"cc":-0.51},{"t":2006.2,"cc":-0.33},{"t":2006.23,"cc":-0.63},{"t":2006.3,"cc":-0.69},{"t":2006.34,"cc":-0.62},{"t":2006.39,"cc":-0.6},{"t":2006.45,"cc":-0.66},{"t":2006.53,"cc":-0.83},{"t":2006.6,"cc":-0.69},{"t":2006.66,"cc":-0.39},{"t":2006.72,"cc":-0.09},{"t":2006.76,"cc":-0.39},{"t":2006.81,"cc":-0.38},{"t":2006.89,"cc":-0.69},{"t":2006.93,"cc":-0.45},{"t":2006.98,"cc":-0.21},{"t":2007.03,"cc":-0.12},{"t":2007.05,"cc":0},{"t":2007.06,"cc":0.08},{"t":2007.09,"cc":0.04},{"t":2007.13,"cc":0.1},{"t":2007.16,"cc":-0.07},{"t":2007.18,"cc":-0.31},{"t":2007.23,"cc":-0.23},{"t":2007.28,"cc":0},{"t":2007.32,"cc":0.32},{"t":2007.37,"cc":0.39},{"t":2007.4,"cc":0.26},{"t":2007.43,"cc":0},{"t":2007.48,"cc":-0.3},{"t":2007.54,"cc":-0.5},{"t":2007.59,"cc":-0.27},{"t":2007.63,"cc":0},{"t":2007.66,"cc":0.1},{"t":2007.7,"cc":0.11},{"t":2007.73,"cc":0},{"t":2007.76,"cc":-0.15},{"t":2007.81,"cc":-0.3},{"t":2007.84,"cc":-0.27},{"t":2007.88,"cc":-0.41},{"t":2007.93,"cc":-0.36},{"t":2007.98,"cc":-0.57},{"t":2008.02,"cc":-0.77},{"t":2008.12,"cc":-0.69},{"t":2008.18,"cc":-0.45},{"t":2008.22,"cc":0},{"t":2008.26,"cc":0.16},{"t":2008.31,"cc":0.13},{"t":2008.36,"cc":0.13},{"t":2008.4,"cc":-0.01},{"t":2008.43,"cc":-0.04},{"t":2008.47,"cc":-0.51},{"t":2008.52,"cc":-0.67},{"t":2008.59,"cc":-0.63},{"t":2008.66,"cc":-0.54},{"t":2008.71,"cc":-0.15},{"t":2008.74,"cc":0.19},{"t":2008.78,"cc":0.26},{"t":2008.81,"cc":0},{"t":2008.87,"cc":-0.57},{"t":2008.9,"cc":-0.72},{"t":2008.96,"cc":-0.78},{"t":2009.05,"cc":-0.78},{"t":2009.15,"cc":-0.8},{"t":2009.19,"cc":-0.51},{"t":2009.24,"cc":-0.27},{"t":2009.3,"cc":-0.39},{"t":2009.37,"cc":-0.54},{"t":2009.43,"cc":-0.66},{"t":2009.5,"cc":-0.88},{"t":2009.53,"cc":-0.88},{"t":2009.58,"cc":-0.54},{"t":2009.63,"cc":-0.54},{"t":2009.68,"cc":-0.72},{"t":2009.77,"cc":-0.94},{"t":2009.83,"cc":-0.94},{"t":2009.9,"cc":-0.91},{"t":2009.96,"cc":-0.45},{"t":2009.99,"cc":-0.3},{"t":2010.05,"cc":-0.09},{"t":2010.13,"cc":0.17},{"t":2010.17,"cc":0},{"t":2010.24,"cc":-0.66},{"t":2010.3,"cc":-0.78},{"t":2010.43,"cc":-0.9},{"t":2010.5,"cc":-0.89},{"t":2010.61,"cc":-0.78},{"t":2010.68,"cc":-0.45},{"t":2010.74,"cc":-0.11},{"t":2010.8,"cc":-0.45},{"t":2010.86,"cc":-0.84},{"t":2010.99,"cc":-0.97},{"t":2011.14,"cc":-0.96},{"t":2011.24,"cc":-0.94},{"t":2011.32,"cc":-0.93},{"t":2011.37,"cc":-0.2},{"t":2011.39,"cc":-0.11},{"t":2011.47,"cc":-0.53},{"t":2011.52,"cc":-0.41},{"t":2011.55,"cc":-0.42},{"t":2011.61,"cc":-0.9},{"t":2011.69,"cc":-0.96},{"t":2011.77,"cc":-0.93},{"t":2011.86,"cc":-0.84},{"t":2011.92,"cc":-0.69},{"t":2011.94,"cc":-0.63},{"t":2011.98,"cc":-0.81},{"t":2012.08,"cc":-0.93},{"t":2012.17,"cc":-0.96},{"t":2012.28,"cc":-0.98},{"t":2012.39,"cc":-0.92},{"t":2012.48,"cc":-0.9},{"t":2012.55,"cc":-0.81},{"t":2012.61,"cc":-0.59},{"t":2012.68,"cc":-0.84},{"t":2012.78,"cc":-0.93},{"t":2012.83,"cc":-0.92},{"t":2012.89,"cc":-0.54},{"t":2012.98,"cc":-0.21},{"t":2013.06,"cc":-0.57},{"t":2013.13,"cc":-0.64},{"t":2013.2,"cc":-0.63},{"t":2013.25,"cc":0},{"t":2013.33,"cc":0.55},{"t":2013.37,"cc":0.35},{"t":2013.4,"cc":0},{"t":2013.43,"cc":-0.38},{"t":2013.51,"cc":-0.6},{"t":2013.61,"cc":-0.7},{"t":2013.64,"cc":-0.54},{"t":2013.7,"cc":-0.26},{"t":2013.76,"cc":-0.45},{"t":2013.83,"cc":-0.5},{"t":2013.92,"cc":-0.72},{"t":2013.98,"cc":-0.86},{"t":2014.07,"cc":-0.82},{"t":2014.15,"cc":-0.45},{"t":2014.22,"cc":0},{"t":2014.25,"cc":0.19},{"t":2014.29,"cc":0.26},{"t":2014.36,"cc":0.31},{"t":2014.42,"cc":0.23},{"t":2014.45,"cc":0},{"t":2014.5,"cc":-0.3},{"t":2014.55,"cc":-0.69},{"t":2014.62,"cc":-0.82},{"t":2014.7,"cc":-0.69},{"t":2014.74,"cc":-0.55},{"t":2014.78,"cc":-0.67},{"t":2014.84,"cc":-0.3},{"t":2014.9,"cc":0},{"t":2014.96,"cc":0.16},{"t":2015.04,"cc":0.21},{"t":2015.1,"cc":0},{"t":2015.15,"cc":-0.54},{"t":2015.2,"cc":-0.66},{"t":2015.29,"cc":-0.69},{"t":2015.37,"cc":-0.81},{"t":2015.43,"cc":-0.72},{"t":2015.48,"cc":-0.09},{"t":2015.53,"cc":-0.21},{"t":2015.57,"cc":-0.17},{"t":2015.62,"cc":-0.6},{"t":2015.65,"cc":-0.63},{"t":2015.68,"cc":-0.57},{"t":2015.76,"cc":-0.72},{"t":2015.85,"cc":-0.64},{"t":2015.93,"cc":-0.6},{"t":2016.03,"cc":-0.84},{"t":2016.12,"cc":-0.92},{"t":2016.18,"cc":-0.87},{"t":2016.26,"cc":-0.45},{"t":2016.32,"cc":-0.29},{"t":2016.37,"cc":-0.15},{"t":2016.43,"cc":-0.55},{"t":2016.5,"cc":0.15},{"t":2016.56,"cc":0.13},{"t":2016.59,"cc":0},{"t":2016.65,"cc":-0.39},{"t":2016.76,"cc":-0.55},{"t":2016.82,"cc":-0.45},{"t":2016.87,"cc":-0.11},{"t":2016.93,"cc":-0.51},{"t":2017.01,"cc":-0.72},{"t":2017.1,"cc":-0.79},{"t":2017.18,"cc":-0.45},{"t":2017.21,"cc":0.4},{"t":2017.28,"cc":0.38},{"t":2017.34,"cc":0.3},{"t":2017.41,"cc":0.54},{"t":2017.46,"cc":0.45},{"t":2017.51,"cc":0},{"t":2017.52,"cc":-0.24},{"t":2017.57,"cc":-0.41},{"t":2017.63,"cc":-0.24},{"t":2017.68,"cc":0.06},{"t":2017.71,"cc":0},{"t":2017.74,"cc":-0.56},{"t":2017.84,"cc":-0.51},{"t":2017.94,"cc":-0.81},{"t":2018.07,"cc":-0.92},{"t":2018.16,"cc":-0.87},{"t":2018.27,"cc":-0.63},{"t":2018.38,"cc":-0.82},{"t":2018.47,"cc":-0.81},{"t":2018.6,"cc":-0.45},{"t":2018.64,"cc":-0.2},{"t":2018.7,"cc":0.1},{"t":2018.77,"cc":0},{"t":2018.82,"cc":-0.75},{"t":2018.85,"cc":-0.88},{"t":2018.97,"cc":-0.95},{"t":2019.08,"cc":-0.91},{"t":2019.22,"cc":-0.64},{"t":2019.31,"cc":-0.73},{"t":2019.4,"cc":-0.31},{"t":2019.5,"cc":-0.64},{"t":2019.56,"cc":-0.66},{"t":2019.61,"cc":-0.6},{"t":2019.66,"cc":-0.63},{"t":2019.72,"cc":-0.44},{"t":2019.81,"cc":-0.36},{"t":2019.91,"cc":-0.75},{"t":2020.0,"cc":-0.93},{"t":2020.06,"cc":-0.69},{"t":2020.14,"cc":-0.29},{"t":2020.17,"cc":-0.38},{"t":2020.23,"cc":-0.44},{"t":2020.31,"cc":-0.45},{"t":2020.39,"cc":-0.12},{"t":2020.48,"cc":-0.45},{"t":2020.56,"cc":-0.79},{"t":2020.67,"cc":-0.86},{"t":2020.75,"cc":-0.81},{"t":2020.86,"cc":-0.31},{"t":2020.94,"cc":-0.48},{"t":2021.03,"cc":-0.78},{"t":2021.14,"cc":-0.96},{"t":2021.22,"cc":-0.87},{"t":2021.31,"cc":-0.54},{"t":2021.38,"cc":-0.44},{"t":2021.45,"cc":-0.18},{"t":2021.5,"cc":-0.69},{"t":2021.57,"cc":-0.81},{"t":2021.65,"cc":-0.47},{"t":2021.72,"cc":-0.45},{"t":2021.79,"cc":-0.15},{"t":2021.84,"cc":-0.57},{"t":2021.9,"cc":-0.61},{"t":2022.0,"cc":-0.39},{"t":2022.03,"cc":-0.26},{"t":2022.09,"cc":-0.39},{"t":2022.2,"cc":-0.82},{"t":2022.28,"cc":-0.63},{"t":2022.37,"cc":-0.76},{"t":2022.46,"cc":-0.75},{"t":2022.53,"cc":-0.79},{"t":2022.59,"cc":-0.75},{"t":2022.65,"cc":-0.3},{"t":2022.7,"cc":-0.24},{"t":2022.75,"cc":0},{"t":2022.79,"cc":0.16},{"t":2022.87,"cc":0.11},{"t":2022.93,"cc":0.08},{"t":2022.99,"cc":0.1},{"t":2023.01,"cc":0.02}
]},
"vconcat":[
{"width":1200,"height":420,"layer":[
{"data":{"name":"candles"},"mark":{"type":"rule","strokeWidth":1.1},"encoding":{
"x":{"field":"t","type":"quantitative","title":null,"scale":{"domain":[2003.876,2026.33],"nice":false,"zero":false,"padding":0},"axis":{"labels":false,"ticks":false,"grid":false,"domain":true,"domainColor":"#e0e3eb","domainWidth":1,"title":null,"maxExtent":0,"minExtent":0}},
"y":{"field":"l","type":"quantitative","title":null,"scale":{"domain":[0.01338,0.0378],"nice":false,"zero":false},"axis":{"orient":"right","offset":-48,"values":[0.02,0.03],"format":".2f","grid":false,"domain":false,"ticks":false,"labelPadding":0,"labelFontSize":13,"labelColor":"#333333","labelFont":"Inter","title":null}},
"y2":{"field":"h"},
"color":{"condition":{"test":"datum.c>=datum.o","value":"#4da79c"},"value":"#e0605a"}}},
{"data":{"name":"candles"},"mark":{"type":"bar","size":2.3},"encoding":{
"x":{"field":"t","type":"quantitative"},
"y":{"field":"o","type":"quantitative"},
"y2":{"field":"c"},
"color":{"condition":{"test":"datum.c>=datum.o","value":"#4da79c"},"value":"#e0605a"}}},
{"data":{"values":[{"line":"upper","t":2011.455,"v":0.03019},{"line":"upper","t":2025.19,"v":0.01712},{"line":"lower","t":2009.64,"v":0.02548},{"line":"lower","t":2022.21,"v":0.01346}]},"mark":{"type":"line","color":"black","strokeWidth":2.6},"encoding":{"x":{"field":"t","type":"quantitative"},"y":{"field":"v","type":"quantitative"},"detail":{"field":"line"}}},
{"data":{"values":[{"t0":2025.21,"t1":2026.11,"v0":0.0188,"v1":0.01764}]},"mark":{"type":"rect","color":"#e0605a","cornerRadius":1},"encoding":{"x":{"field":"t0","type":"quantitative"},"x2":{"field":"t1"},"y":{"field":"v0","type":"quantitative"},"y2":{"field":"v1"}}},
{"data":{"values":[{"t":2025.66,"v":0.0182,"label":"0.02"}]},"mark":{"type":"text","color":"white","fontSize":13,"font":"Inter"},"encoding":{"x":{"field":"t","type":"quantitative"},"y":{"field":"v","type":"quantitative"},"text":{"field":"label"}}},
{"data":{"values":[{"t":2004.08,"v":0.0368,"label":"XLU/SPX, 1W, Arca"}]},"mark":{"type":"text","align":"left","baseline":"middle","color":"#131722","fontSize":13,"font":"Inter"},"encoding":{"x":{"field":"t","type":"quantitative"},"y":{"field":"v","type":"quantitative"},"text":{"field":"label"}}}
]},
{"width":1200,"height":211,"layer":[
{"data":{"name":"cc"},"mark":{"type":"area","color":"#3b66f5","opacity":1,"interpolate":"monotone"},"encoding":{
"x":{"field":"t","type":"quantitative","title":null,"scale":{"domain":[2003.876,2026.33],"nice":false,"zero":false},"axis":{"values":[2005,2007,2009,2011,2013,2015,2017,2019,2021,2023,2024.93],"labelExpr":"datum.value>2024?'202':format(datum.value,'d')","grid":false,"domain":false,"ticks":false,"labelFontSize":13,"labelFontWeight":"bold","labelColor":"#131722","labelFont":"Inter","labelPadding":8,"labelOverlap":false,"labelFlush":false,"title":null}},
"y":{"field":"cc","type":"quantitative","title":null,"scale":{"domain":[-1.172,0.707],"nice":false,"zero":false},"axis":{"orient":"right","offset":-48,"values":[-1,0,0.5],"labelExpr":"replace(format(datum.value,'.2f'),'-','\u2212')","grid":false,"domain":false,"ticks":false,"labelPadding":0,"labelFontSize":13,"labelColor":"#333333","labelFont":"Inter","title":null}},
"y2":{"datum":0}}},
{"data":{"values":[{"t0":2003.985,"t1":2023.02,"v0":0.015,"v1":-1.044}]},"mark":{"type":"rect","filled":false,"stroke":"black","strokeWidth":2.4},"encoding":{"x":{"field":"t0","type":"quantitative"},"x2":{"field":"t1"},"y":{"field":"v0","type":"quantitative"},"y2":{"field":"v1"}}},
{"data":{"values":[{"t":2004.08,"v":0.576,"label":"CC"}]},"mark":{"type":"text","align":"left","baseline":"middle","color":"#131722","fontSize":13,"font":"Inter"},"encoding":{"x":{"field":"t","type":"quantitative"},"y":{"field":"v","type":"quantitative"},"text":{"field":"label"}}},
{"data":{"values":[{"t":2004.57,"v":0.576,"label":"0.06"}]},"mark":{"type":"text","align":"left","baseline":"middle","color":"#3b66f5","fontSize":13,"font":"Inter"},"encoding":{"x":{"field":"t","type":"quantitative"},"y":{"field":"v","type":"quantitative"},"text":{"field":"label"}}},
{"data":{"values":[{"t":2024.59,"v":-0.214,"label":"Negative"},{"t":2024.59,"v":-0.519,"label":"correlation to"},{"t":2024.59,"v":-0.813,"label":"S&P 500"}]},"mark":{"type":"text","align":"center","baseline":"middle","color":"#111111","fontSize":25,"font":"Lato"},"encoding":{"x":{"field":"t","type":"quantitative"},"y":{"field":"v","type":"quantitative"},"text":{"field":"label"}}}
]}
]}
